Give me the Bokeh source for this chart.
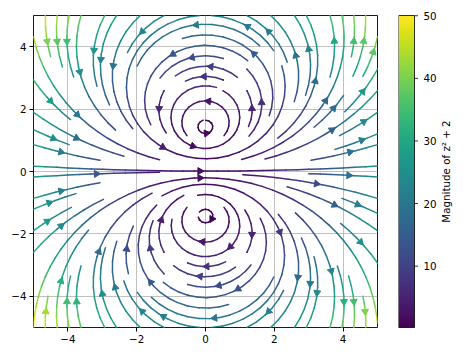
import numpy as np
from bokeh.plotting import figure
from bokeh.layouts import row
from bokeh.models import ColumnDataSource, LinearColorMapper, FixedTicker
from bokeh.core.properties import value
from bokeh.palettes import Viridis256
from bokeh.embed import file_html
from bokeh.resources import INLINE

# ---------------- chart definition ----------------
X_MIN, X_MAX = -5.0, 5.0
Y_MIN, Y_MAX = -5.0, 5.0
GRID_N = 100
POLY_COEFFS = [1, 0, 2]          # f(z) = z^2 + 2
AXIS_TICKS = [-4, -2, 0, 2, 4]
AXIS_TICK_LABELS = ["\u22124", "\u22122", "0", "2", "4"]
CBAR_TICKS = [10, 20, 30, 40, 50]
CBAR_TICK_LABELS = ["10", "20", "30", "40", "50"]
CBAR_LABEL = "Magnitude of z\u00b2 + 2"
DENSITY = 1

# ---------------- field ----------------
xs = np.linspace(X_MIN, X_MAX, GRID_N)
ys = np.linspace(Y_MIN, Y_MAX, GRID_N)
XX, YY = np.meshgrid(xs, ys)
F = np.polyval(POLY_COEFFS, XX + 1j * YY)
U = F.real
V = F.imag
MAG = np.abs(F)


# ---------------- streamline integration (matplotlib-like) ----------------
class OutOfBounds(Exception):
    pass


class Terminate(Exception):
    pass


class InvalidIndex(Exception):
    pass


nx, ny = len(xs), len(ys)
gdx = xs[1] - xs[0]
gdy = ys[1] - ys[0]
mnx = mny = int(30 * DENSITY)
mask = np.zeros((mny, mnx))
x_grid2mask = (mnx - 1) / (nx - 1)
y_grid2mask = (mny - 1) / (ny - 1)
state = {"cur": None, "traj": []}


def within_grid(xi, yi):
    return 0 <= xi <= nx - 1 and 0 <= yi <= ny - 1


def grid2mask(xi, yi):
    return round(xi * x_grid2mask), round(yi * y_grid2mask)


def mask_update(xm, ym):
    if state["cur"] != (xm, ym):
        if mask[ym, xm] == 0:
            state["traj"].append((ym, xm))
            mask[ym, xm] = 1
            state["cur"] = (xm, ym)
        else:
            raise InvalidIndex


def interpgrid(a, xi, yi):
    Ny, Nx = a.shape
    if isinstance(xi, np.ndarray):
        x = xi.astype(int)
        y = yi.astype(int)
        xn = np.clip(x + 1, 0, Nx - 1)
        yn = np.clip(y + 1, 0, Ny - 1)
    else:
        x = int(xi)
        y = int(yi)
        xn = x if x == Nx - 1 else x + 1
        yn = y if y == Ny - 1 else y + 1
    a00 = a[y, x]
    a01 = a[y, xn]
    a10 = a[yn, x]
    a11 = a[yn, xn]
    xt = xi - x
    yt = yi - y
    a0 = a00 * (1 - xt) + a01 * xt
    a1 = a10 * (1 - xt) + a11 * xt
    return a0 * (1 - yt) + a1 * yt


ug = U / gdx
vg = V / gdy
speed = np.sqrt((ug / (nx - 1)) ** 2 + (vg / (ny - 1)) ** 2)


def forward_time(xi, yi):
    if not within_grid(xi, yi):
        raise OutOfBounds
    ds_dt = interpgrid(speed, xi, yi)
    if ds_dt == 0:
        raise Terminate
    return interpgrid(ug, xi, yi) / ds_dt, interpgrid(vg, xi, yi) / ds_dt


def backward_time(xi, yi):
    a, b = forward_time(xi, yi)
    return -a, -b


def euler_step(traj, f):
    xi, yi = traj[-1]
    cx, cy = f(xi, yi)
    dsx = np.inf if cx == 0 else (xi / -cx if cx < 0 else (nx - 1 - xi) / cx)
    dsy = np.inf if cy == 0 else (yi / -cy if cy < 0 else (ny - 1 - yi) / cy)
    ds = min(dsx, dsy)
    traj.append((xi + cx * ds, yi + cy * ds))
    return ds, traj


def rk12(x0, y0, f, maxlength=4.0):
    maxerror = 0.003
    maxds = min(1.0 / mnx, 1.0 / mny, 0.1)
    ds = maxds
    stotal = 0
    xi, yi = x0, y0
    traj = []
    while True:
        try:
            if within_grid(xi, yi):
                traj.append((xi, yi))
            else:
                raise OutOfBounds
            k1x, k1y = f(xi, yi)
            k2x, k2y = f(xi + ds * k1x, yi + ds * k1y)
        except OutOfBounds:
            if traj:
                d, traj = euler_step(traj, f)
                stotal += d
            break
        except Terminate:
            break
        dx1 = ds * k1x
        dy1 = ds * k1y
        dx2 = ds * 0.5 * (k1x + k2x)
        dy2 = ds * 0.5 * (k1y + k2y)
        error = np.hypot((dx2 - dx1) / (nx - 1), (dy2 - dy1) / (ny - 1))
        if error < maxerror:
            xi += dx2
            yi += dy2
            try:
                if not within_grid(xi, yi):
                    raise InvalidIndex
                mask_update(*grid2mask(xi, yi))
            except InvalidIndex:
                break
            if stotal + ds > maxlength:
                break
            stotal += ds
        ds = maxds if error == 0 else min(maxds, 0.85 * ds * (maxerror / error) ** 0.5)
    return stotal, traj


def integrate(x0, y0, minlength=0.1):
    state["traj"] = []
    try:
        mask_update(*grid2mask(x0, y0))
    except InvalidIndex:
        return None
    s1, back = rk12(x0, y0, backward_time)
    state["cur"] = grid2mask(x0, y0)
    s2, fwd = rk12(x0, y0, forward_time)
    traj = back[::-1] + fwd[1:]
    if s1 + s2 > minlength:
        return np.array(traj)
    for t in state["traj"]:
        mask[t] = 0
    return None


def gen_start(shape):
    sny, snx = shape
    xfirst, yfirst = 0, 1
    xlast, ylast = snx - 1, sny - 1
    x = y = 0
    direction = "right"
    for _ in range(snx * sny):
        yield x, y
        if direction == "right":
            x += 1
            if x >= xlast:
                xlast -= 1
                direction = "up"
        elif direction == "up":
            y += 1
            if y >= ylast:
                ylast -= 1
                direction = "left"
        elif direction == "left":
            x -= 1
            if x <= xfirst:
                xfirst += 1
                direction = "down"
        else:
            y -= 1
            if y <= yfirst:
                yfirst += 1
                direction = "right"


trajectories = []
for xm, ym in gen_start(mask.shape):
    if mask[ym, xm] == 0:
        t = integrate(xm / x_grid2mask, ym / y_grid2mask)
        if t is not None:
            trajectories.append(t)

# ---------------- glyph data ----------------
cmin, cmax = float(MAG.min()), float(MAG.max())
pal = list(Viridis256)


def to_color(val):
    i = int((val - cmin) / (cmax - cmin) * 256)
    return pal[min(max(i, 0), 255)]


FRAME_W, FRAME_H = 344.0, 312.0
TOP_B, BOT_B = 15, 28
sx = FRAME_W / (X_MAX - X_MIN)
sy = FRAME_H / (Y_MAX - Y_MIN)

seg = dict(x0=[], y0=[], x1=[], y1=[], color=[])
arr = dict(x=[], y=[], angle=[], color=[])
for t in trajectories:
    tgx, tgy = t[:, 0], t[:, 1]
    tx = tgx * gdx + xs[0]
    ty = tgy * gdy + ys[0]
    cv = interpgrid(MAG, tgx, tgy)[:-1]
    cols = [to_color(c) for c in cv]
    seg["x0"] += list(tx[:-1])
    seg["y0"] += list(ty[:-1])
    seg["x1"] += list(tx[1:])
    seg["y1"] += list(ty[1:])
    seg["color"] += cols
    s = np.cumsum(np.hypot(np.diff(tx), np.diff(ty)))
    n = int(np.searchsorted(s, s[-1] / 2.0))
    hx, hy = np.mean(tx[n:n + 2]), np.mean(ty[n:n + 2])
    ang = np.arctan2((hy - ty[n]) * sy, (hx - tx[n]) * sx)
    arr["x"].append(hx)
    arr["y"].append(hy)
    arr["angle"].append(ang - np.pi / 2)
    arr["color"].append(cols[n])

# ---------------- main figure ----------------
FONT = "DejaVu Sans"
FS = "10.3px"
p = figure(width=398, height=355, x_range=(X_MIN, X_MAX), y_range=(Y_MIN, Y_MAX),
           output_backend="svg", toolbar_location=None,
           min_border_left=33, min_border_top=TOP_B, min_border_bottom=BOT_B,
           min_border_right=21)
p.background_fill_color = "white"
p.outline_line_color = "black"
p.outline_line_width = 0.9

for ax in (p.xaxis[0], p.yaxis[0]):
    ax.ticker = FixedTicker(ticks=AXIS_TICKS)
    ax.major_label_overrides = {k: v for k, v in zip(AXIS_TICKS, AXIS_TICK_LABELS)}
    ax.major_tick_out = 4
    ax.major_tick_in = 0
    ax.minor_tick_line_color = None
    ax.axis_line_color = None
    ax.major_tick_line_color = "black"
    ax.major_label_text_font = FONT
    ax.major_label_text_font_size = FS
    ax.major_label_text_color = "black"
    ax.major_label_standoff = 3

p.grid.grid_line_color = "#b0b0b0"
p.grid.grid_line_width = 0.8
p.grid.ticker = FixedTicker(ticks=AXIS_TICKS)

p.segment(x0="x0", y0="y0", x1="x1", y1="y1", color="color",
          source=ColumnDataSource(seg), line_width=1.5, line_cap="round")
p.scatter(x="x", y="y", angle="angle", color="color", marker="triangle",
          size=7, source=ColumnDataSource(arr))

# ---------------- colour bar figure ----------------
CB_W = 474 - 398
CB_H = 355
BAR_W = 16
k = (cmax - cmin) / FRAME_H          # data units per pixel on the bar
cb = figure(width=CB_W, height=CB_H, x_range=(0, CB_W),
            y_range=(cmin - BOT_B * k, cmin + (CB_H - BOT_B) * k),
            output_backend="svg", toolbar_location=None,
            x_axis_location=None, y_axis_location=None,
            min_border=0)
for fig in (p, cb):
    try:
        fig.frame_align = False
    except Exception:
        pass
cb.grid.visible = False
cb.outline_line_color = None
cb.background_fill_color = "white"

mapper = LinearColorMapper(palette=Viridis256, low=cmin, high=cmax)
grad = np.linspace(cmin, cmax, 256).reshape(256, 1)
cb.image(image=[grad], x=0, y=cmin, dw=BAR_W, dh=cmax - cmin, color_mapper=mapper)
cb.quad(left=[0], right=[BAR_W], bottom=[cmin], top=[cmax], fill_alpha=0,
        line_color="black", line_width=0.8)
cb.segment(x0=[BAR_W] * len(CBAR_TICKS), x1=[BAR_W + 3.5] * len(CBAR_TICKS),
           y0=CBAR_TICKS, y1=CBAR_TICKS, line_color="black", line_width=0.8)
cb.text(x=[BAR_W + 9] * len(CBAR_TICKS), y=CBAR_TICKS, text=CBAR_TICK_LABELS,
        text_align="left", text_baseline="middle", text_font=value(FONT),
        text_font_size=FS, text_color="black")
cb.text(x=[47.7], y=[(cmin + cmax) / 2], text=[CBAR_LABEL], angle=np.pi / 2,
        text_align="center", text_baseline="middle", text_font=value(FONT),
        text_font_size=FS, text_color="black")

open("out.html", "w").write(file_html(row(p, cb), INLINE))
